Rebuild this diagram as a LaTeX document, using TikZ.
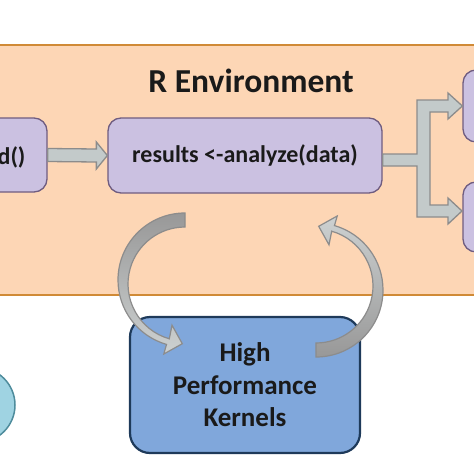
\documentclass[tikz,border=0pt]{standalone}
\usepackage{fontspec}
\setmainfont{Carlito}
\usetikzlibrary{calc}
\definecolor{envfill}{HTML}{FDD6B5}
\definecolor{envline}{HTML}{D08A36}
\definecolor{codefill}{HTML}{CBC1E1}
\definecolor{codeline}{HTML}{6F5C80}
\definecolor{kernfill}{HTML}{80A7DB}
\definecolor{kernline}{HTML}{1E3A5A}
\definecolor{arrowfill}{HTML}{C3CACA}
\definecolor{arrowline}{HTML}{8C8C8C}
\definecolor{bentdark}{HTML}{989898}
\definecolor{bentlight}{HTML}{CDD1D1}
\definecolor{dotfill}{HTML}{9FD3E2}
\definecolor{dotline}{HTML}{4E8C9C}
\definecolor{inktext}{HTML}{1A1A1A}
\tikzset{
    envbox/.style={fill=envfill, draw=envline, line width=2pt},
    codetext/.style={text=inktext, font=\fontsize{24}{29}\selectfont\bfseries},
    codebox/.style={codetext, fill=codefill, draw=codeline, line width=1.3pt, rounded corners=13pt},
    kernelbox/.style={fill=kernfill, draw=kernline, line width=2.2pt, rounded corners=20pt, align=center, text=inktext, font=\fontsize{27}{32.5}\selectfont\bfseries},
    blockarrow/.style={fill=arrowfill, draw=arrowline, line width=1.3pt},
    bentarrow/.style={draw=arrowline, line width=1.2pt}
}
\begin{document}
\begin{tikzpicture}[x=1pt, y=1pt]
    \clip (0,0) rectangle (474,-474);
    % R-Umgebung
    \draw[envbox] (-20,-45) rectangle (494,-295);
    \node[text=inktext, font=\fontsize{33.5}{40}\selectfont\bfseries] (title) at (251,-81) {R Environment};

    % Codeboxen
    \node[codebox, minimum width=150pt, minimum height=74pt] (load) at (-28,-155) {};
    \node[codetext, anchor=east, inner sep=0pt] (loadtext) at ($(load.east)+(-22,-2)$) {d()};
    \node[codebox, minimum width=274pt, minimum height=75pt] (analyze) at (245,-155.5) {results <-analyze(data)};
    \node[codebox, minimum width=110pt, minimum height=72pt] (outa) at (518,-106) {};
    \node[codebox, minimum width=110pt, minimum height=70pt] (outb) at (518,-217) {};

    % Blockpfeile
    \draw[blockarrow] ($(load.east)+(0,6.5)$) -- ($(analyze.west)+(-11,6.5)$) -- ++(0,7)
        -- (analyze.west) -- ($(analyze.west)+(-11,-13.5)$) -- ++(0,7) -- ($(load.east)+(0,-6.5)$) -- cycle;
    \coordinate (tipb) at (462,-211);
    \draw[blockarrow] ($(analyze.east)+(0,1.5)$) -- (417,-154) -- (417,-100) -- (448,-100) -- (448,-93)
        -- (outa.west) -- (448,-119) -- (448,-112) -- (430,-112) -- (430,-205) -- (448,-205) -- (448,-198)
        -- (tipb) -- (448,-224) -- (448,-217) -- (417,-217) -- (417,-166) -- ($(analyze.east)+(0,-10.5)$) -- cycle;

    % Kernel
    \node[kernelbox, minimum width=230pt, minimum height=136pt] (hpk) at (245,-385) {High\\Performance\\Kernels};
    \node[circle, fill=dotfill, draw=dotline, line width=1.5pt, minimum size=75pt] (dot) at (-22.5,-405) {};

    % gebogene Pfeile
    \draw[bentarrow, top color=bentdark, bottom color=bentlight] (185,-213) arc[start angle=90, end angle=254, radius=67]
        -- (163.8,-354) -- (182.3,-343.7) -- (172,-325.2) -- (169.3,-338.8) arc[start angle=254, end angle=90, radius=57] -- cycle;
    \draw[bentarrow, top color=bentlight, bottom color=bentdark] (316,-357) arc[start angle=270, end angle=434, radius=67]
        -- (337.2,-216) -- (318.7,-226.3) -- (329,-244.8) -- (331.7,-231.2) arc[start angle=434, end angle=270, radius=57] -- cycle;
\end{tikzpicture}
\end{document}
